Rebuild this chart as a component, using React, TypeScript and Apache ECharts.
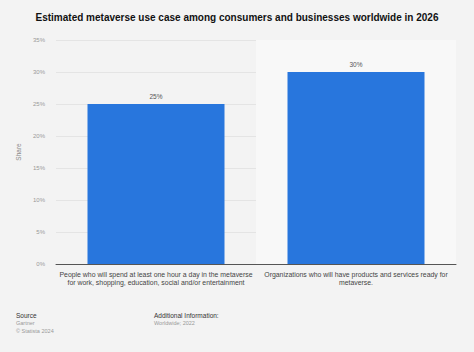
import React, { useEffect, useRef } from "react";
import * as echarts from "echarts";

const categories = [
  "People who will spend at least one hour a day in the metaverse\nfor work, shopping, education, social and/or entertainment",
  "Organizations who will have products and services ready for\nmetaverse.",
];
const values = [25, 30];
const yTicks = { min: 0, max: 35, interval: 5 };

export default function App() {
  const ref = useRef<HTMLDivElement>(null);
  useEffect(() => {
    document.body.style.margin = "0";
    const chart = echarts.init(ref.current!, null, { renderer: "svg" });
    const font = "Arial, 'Liberation Sans', sans-serif";
    chart.setOption({
      animation: false,
      backgroundColor: "#f3f3f3",
      textStyle: { fontFamily: font },
      title: {
        text: "Estimated metaverse use case among consumers and businesses worldwide in 2026",
        left: "center",
        top: 7,
        textStyle: { fontSize: 10, fontWeight: "bold", color: "#111", fontFamily: font },
      },
      grid: { left: 56, right: 18, top: 40, bottom: 88 },
      xAxis: {
        type: "category",
        data: categories,
        axisLine: { lineStyle: { color: "#555", width: 1 } },
        axisTick: { show: false },
        splitArea: { show: true, areaStyle: { color: ["rgba(0,0,0,0)", "#f8f8f8"] } },
        axisLabel: { fontSize: 6.9, color: "#444", lineHeight: 8, margin: 6, interval: 0, fontFamily: font },
      },
      yAxis: {
        type: "value",
        min: yTicks.min,
        max: yTicks.max,
        interval: yTicks.interval,
        name: "Share",
        nameLocation: "middle",
        nameGap: 30,
        nameTextStyle: { fontSize: 6.5, color: "#888", fontFamily: font },
        axisLabel: { formatter: "{value}%", fontSize: 6, color: "#999", margin: 11, fontFamily: font },
        splitLine: { lineStyle: { color: "#e4e4e4" } },
        axisLine: { show: false },
        axisTick: { show: false },
      },
      series: [
        {
          type: "bar",
          data: values,
          barWidth: "68.5%",
          itemStyle: { color: "#2876dd" },
          label: { show: true, position: "top", formatter: "{c}%", fontSize: 6.5, color: "#555", distance: 4, fontFamily: font },
        },
      ],
      graphic: [
        { type: "text", left: 16, top: 312, style: { text: "Source", fontSize: 6.5, fill: "#333", fontFamily: font } },
        { type: "text", left: 16, top: 320, style: { text: "Gartner", fontSize: 5.5, fill: "#999", fontFamily: font } },
        { type: "text", left: 16, top: 328, style: { text: "© Statista 2024", fontSize: 5.5, fill: "#999", fontFamily: font } },
        { type: "text", left: 154, top: 312, style: { text: "Additional Information:", fontSize: 6.5, fill: "#333", fontFamily: font } },
        { type: "text", left: 154, top: 320, style: { text: "Worldwide; 2022", fontSize: 5.5, fill: "#999", fontFamily: font } },
      ],
    });
    return () => chart.dispose();
  }, []);
  return <div ref={ref} style={{ width: 474, height: 352 }} />;
}
